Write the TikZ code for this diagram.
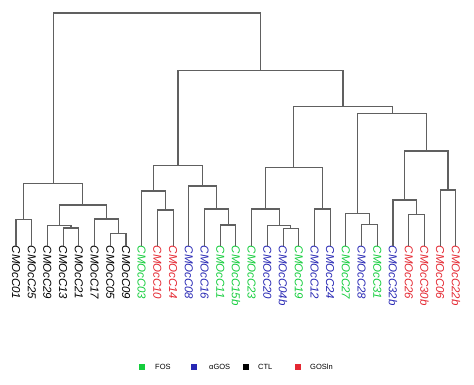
\documentclass[tikz,border=0pt]{standalone}
\usepackage{fontspec}
\setmainfont{Liberation Sans}
\usetikzlibrary{calc}
\definecolor{treegray}{RGB}{96,96,96}
\definecolor{fosgreen}{RGB}{20,205,60}
\definecolor{gosblue}{RGB}{40,40,180}
\definecolor{gosred}{RGB}{228,40,50}
\tikzset{
  branch/.style={draw=treegray, line width=1.1pt},
  leaflab/.style={rotate=-90, anchor=west, inner sep=0pt, font=\fontsize{11.5}{12}\selectfont\itshape},
  legbox/.style={minimum size=6pt, inner sep=0pt},
  legtext/.style={anchor=west, inner sep=0pt, font=\fontsize{7.5}{8}\selectfont}
}
\newcommand{\leaf}[4]{% index, name, label, color
  \coordinate (#2) at ({16+15.71*#1},243);
  \node[leaflab, text=#4] (lab#2) at ({16+15.71*#1},245.5) {#3};
  \draw[branch] (#2) -- (lab#2.west);
}
\newcommand{\mergenode}[4]{% name, childA, childB, y
  \coordinate (tmp#1) at ($(#2)!0.5!(#3)$);
  \coordinate (#1) at (tmp#1 |- 0,#4);
  \draw[branch] (#2) |- (#1) -| (#3);
}
\begin{document}
\begin{tikzpicture}[x=1pt,y=-1pt]
\useasboundingbox (0,0) rectangle (474,385);
\leaf{0}{C01}{CMOcC01}{black}
\leaf{1}{C25}{CMOcC25}{black}
\leaf{2}{C29}{CMOcC29}{black}
\leaf{3}{C13}{CMOcC13}{black}
\leaf{4}{C21}{CMOcC21}{black}
\leaf{5}{C17}{CMOcC17}{black}
\leaf{6}{C05}{CMOcC05}{black}
\leaf{7}{C09}{CMOcC09}{black}
\leaf{8}{C03}{CMOcC03}{fosgreen}
\leaf{9}{C10}{CMOcC10}{gosred}
\leaf{10}{C14}{CMOcC14}{gosred}
\leaf{11}{C08}{CMOcC08}{gosblue}
\leaf{12}{C16}{CMOcC16}{gosblue}
\leaf{13}{C11}{CMOcC11}{fosgreen}
\leaf{14}{C15b}{CMOcC15b}{fosgreen}
\leaf{15}{C23}{CMOcC23}{fosgreen}
\leaf{16}{C20}{CMOcC20}{gosblue}
\leaf{17}{C04b}{CMOcC04b}{gosblue}
\leaf{18}{C19}{CMOcC19}{fosgreen}
\leaf{19}{C12}{CMOcC12}{gosblue}
\leaf{20}{C24}{CMOcC24}{gosblue}
\leaf{21}{C27}{CMOcC27}{fosgreen}
\leaf{22}{C28}{CMOcC28}{gosblue}
\leaf{23}{C31}{CMOcC31}{fosgreen}
\leaf{24}{C32b}{CMOcC32b}{gosblue}
\leaf{25}{C26}{CMOcC26}{gosred}
\leaf{26}{C30b}{CMOcC30b}{gosred}
\leaf{27}{C06}{CMOcC06}{gosred}
\leaf{28}{C22b}{CMOcC22b}{gosred}
% left cluster
\mergenode{a1}{C13}{C21}{228}
\mergenode{a2}{C29}{a1}{225.5}
\mergenode{a3}{C05}{C09}{233.3}
\mergenode{a4}{C17}{a3}{219}
\mergenode{a5}{a2}{a4}{205}
\mergenode{a6}{C01}{C25}{219.3}
\mergenode{a7}{a6}{a5}{183.3}
% second cluster
\mergenode{b1}{C10}{C14}{210}
\mergenode{b2}{C03}{b1}{191}
\mergenode{b3}{C11}{C15b}{225}
\mergenode{b4}{C16}{b3}{209}
\mergenode{b5}{C08}{b4}{186}
\mergenode{b6}{b2}{b5}{165.7}
% third cluster
\mergenode{c1}{C04b}{C19}{228.3}
\mergenode{c2}{C20}{c1}{225.3}
\mergenode{c3}{C23}{c2}{209}
\mergenode{c4}{C12}{C24}{209}
\mergenode{c5}{c3}{c4}{167.3}
% right cluster
\mergenode{d1}{C28}{C31}{224.3}
\mergenode{d2}{C27}{d1}{213.3}
\mergenode{d3}{C26}{C30b}{214.3}
\mergenode{d4}{C32b}{d3}{200}
\mergenode{d5}{C06}{C22b}{190}
\mergenode{d6}{d4}{d5}{151}
\mergenode{d7}{d2}{d6}{113.3}
% upper merges
\mergenode{e1}{c5}{d7}{106.3}
\mergenode{e2}{b6}{e1}{70.7}
\mergenode{root}{a7}{e2}{13}
% legend
\node[legbox, fill=fosgreen] (kfos) at (142,367) {};
\node[legtext] (tfos) at (155,367) {FOS};
\node[legbox, fill=gosblue] (kagos) at (193.7,367) {};
\node[legtext] (tagos) at (209,367) {αGOS};
\node[legbox, fill=black] (kctl) at (245.5,367) {};
\node[legtext] (tctl) at (258,367) {CTL};
\node[legbox, fill=gosred] (kgosln) at (298,367) {};
\node[legtext] (tgosln) at (310,367) {GOSln};
\end{tikzpicture}
\end{document}
